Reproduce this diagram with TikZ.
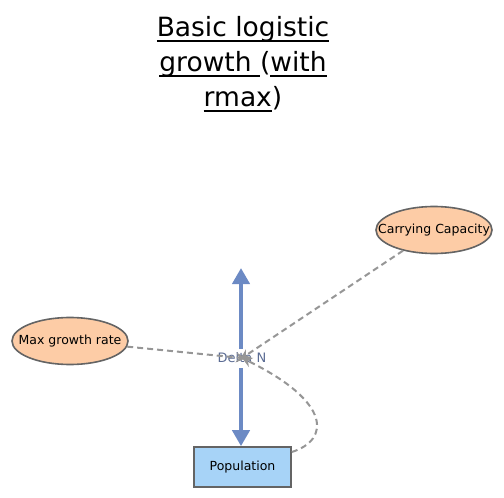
\documentclass[tikz,border=0pt]{standalone}
\usepackage{fontspec}
\setmainfont{DejaVu Sans}
\usetikzlibrary{arrows.meta,shapes.geometric}
\definecolor{peach}{RGB}{253,204,166}
\definecolor{popblue}{RGB}{167,211,247}
\definecolor{flowblue}{RGB}{108,138,196}
\definecolor{edgegray}{RGB}{100,100,100}
\definecolor{linkgray}{RGB}{150,150,150}
\definecolor{dntext}{RGB}{90,107,147}
\newcommand\myul[1]{\setbox0\hbox{#1}\rlap{\rule[-5pt]{\wd0}{2pt}}\box0}
\tikzset{
  varell/.style={ellipse, draw=edgegray, line width=1.6pt, fill=peach, minimum width=116pt, minimum height=47pt, inner sep=0pt, font=\fontsize{12.5}{14}\selectfont},
  stockbox/.style={rectangle, draw=edgegray, line width=1.6pt, fill=popblue, minimum width=97pt, minimum height=40pt, inner sep=0pt, font=\fontsize{12.5}{14}\selectfont},
  flowline/.style={draw=flowblue, line width=4pt, -{Triangle[length=16pt,width=17pt]}},
  linkline/.style={draw=linkgray, line width=2pt, dash pattern=on 6pt off 4pt, -{Stealth[length=10pt,width=10pt]}},
}
\begin{document}
\begin{tikzpicture}[x=1pt,y=-1pt]
\useasboundingbox (0,0) rectangle (504,498);
\node[align=center, font=\fontsize{26.5}{35}\selectfont, anchor=north] (title) at (243,13)
  {\myul{Basic logistic}\\ \myul{growth }(\myul{with}\\ \myul{rmax})};
\node[varell] (mgr) at (70,341) {\makebox[60pt]{Max growth rate}};
\node[varell] (cc) at (434,230) {\makebox[60pt]{Carrying Capacity}};
\node[stockbox] (pop) at (242.5,467) {Population};
\coordinate (src) at (241,268);
\draw[flowline] (241,349) -- (src);
\draw[flowline] (241,368) -- (pop.north -| src);
\node[font=\fontsize{13}{14}\selectfont, text=dntext, inner sep=0pt, minimum height=20pt] (dn) at (242,358) {Delta N};
\draw[linkline, shorten >=-4pt] (mgr) -- (dn.center);
\draw[linkline, shorten >=-2pt] (cc) -- (dn.center);
\draw[linkline] (pop.east |- 0,452) .. controls (330,440) and (332,402) .. (dn.center);
\end{tikzpicture}
\end{document}
